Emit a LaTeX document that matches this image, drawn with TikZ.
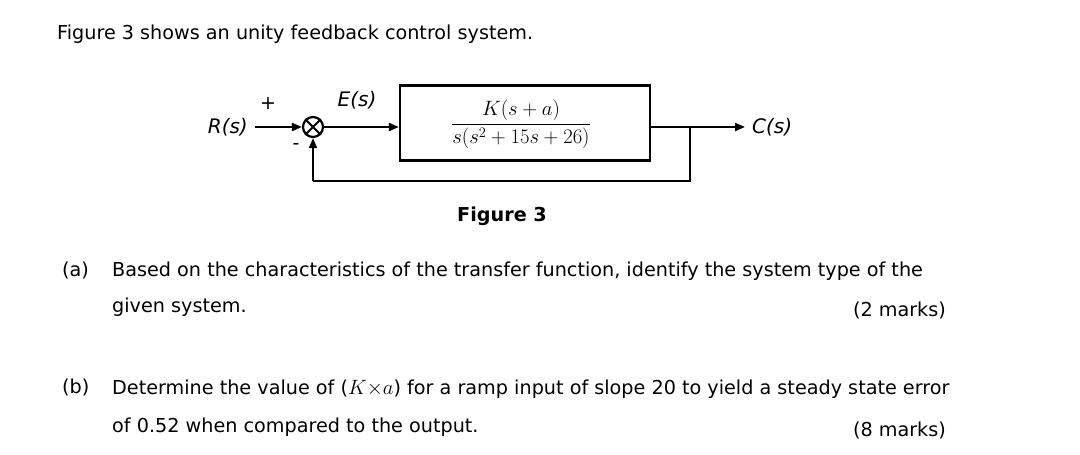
\documentclass[tikz,border=0pt]{standalone}
\usepackage{fontspec}
\setmainfont{DejaVu Sans}
\usetikzlibrary{arrows.meta}
\begin{document}
\begin{tikzpicture}[x=1pt,y=-1pt,
  txt/.style={anchor=base west,inner sep=0,font=\fontsize{19.2}{22}\selectfont},
  lbl/.style={inner sep=0,font=\fontsize{20}{24}\selectfont\itshape},
  wire/.style={line width=2.2pt},
  arr/.style={wire,-{Triangle[length=10pt,width=8pt]}}]
\useasboundingbox (0,0) rectangle (1080,455);
\node[txt] (t1) at (57,39) {Figure 3 shows an unity feedback control system.};
% diagram
\node[draw,circle,line width=2.2pt,minimum size=20pt,inner sep=0] (sum) at (313,127) {};
\draw[line width=1.8pt] (sum.north west)--(sum.south east) (sum.north east)--(sum.south west);
\node[draw,line width=2.2pt,minimum width=250pt,minimum height=75pt,inner sep=0] (G) at (525,123) {};
\node (tf) at (521,124) {\fontsize{21}{25}\selectfont$\displaystyle\frac{K(s+a)}{s(s^2+15s+26)}$};
\node[lbl,anchor=east] (R) at (248,127) {R(s)};
\coordinate (rin) at (255,127);
\draw[arr] (rin) -- (sum);
\node[inner sep=0,font=\fontsize{19}{20}\selectfont] (plus) at (268,104) {+};
\node[inner sep=0,font=\fontsize{19}{20}\selectfont] (minus) at (296,147) {-};
\node[lbl] (E) at (357,100) {E(s)};
\draw[arr] (sum) -- (G.west|-sum);
\coordinate (br) at (690,127);
\coordinate (out) at (745,127);
\coordinate (fb1) at (690,181);
\coordinate (fb2) at (313,181);
\draw[arr] (G.east|-br) -- (out);
\node[lbl,anchor=west] (C) at (752,127) {C(s)};
\draw[wire] (br) -- (fb1) -- (fb2);
\draw[arr] (fb2) -- (sum);
\node[txt,anchor=base,font=\fontsize{19.2}{22}\selectfont\bfseries] (fig) at (502,221) {Figure 3};
\node[txt] (a) at (62,276) {(a)};
\node[txt] (a1) at (112,276) {Based on the characteristics of the transfer function, identify the system type of the};
\node[txt] (a2) at (112,312) {given system.};
\node[txt,anchor=base east] (a3) at (946,316) {(2 marks)};
\node[txt] (b) at (62,393) {(b)};
\node[txt] (b1) at (112,394) {Determine the value of ($K{\times}a$) for a ramp input of slope 20 to yield a steady state error};
\node[txt] (b2) at (112,432) {of 0.52 when compared to the output.};
\node[txt,anchor=base east] (b3) at (946,436) {(8 marks)};
\end{tikzpicture}
\end{document}
